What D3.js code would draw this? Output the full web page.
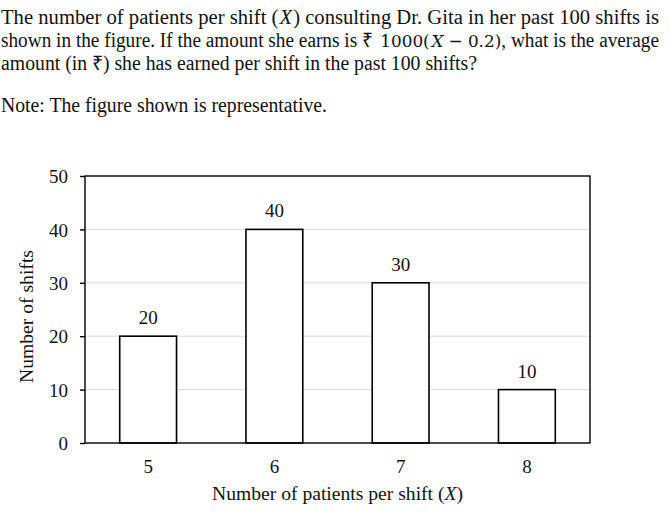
<!DOCTYPE html>
<html><head><meta charset="utf-8">
<script src="https://cdn.jsdelivr.net/npm/d3@7"></script>
<style>body{margin:0;background:#fff}svg{display:block}</style>
</head><body>
<script>
const categories = ["5","6","7","8"];
const values = [20,40,30,10];
const yTicks = [0,10,20,30,40,50];

const W=670,H=514;
const svg=d3.select("body").append("svg").attr("width",W).attr("height",H);
const serif="'Liberation Serif','Times New Roman',serif";
const mathf="'DejaVu Serif',serif";

// question text
const q=svg.append("g").attr("font-family",serif).attr("font-size",20).attr("fill","#111");
function line(y,parts,len){
  const t=q.append("text").attr("x",1).attr("y",y);
  parts.forEach(p=>{
    const s=t.append("tspan").text(p[0]);
    if(p[1]) s.attr("font-style","italic");
    if(p[2]) s.attr("font-family",mathf).attr("font-size",17.5);
    if(p[3]) s.attr("dx",p[3]);
  });
  if(len) t.attr("textLength",len).attr("lengthAdjust","spacingAndGlyphs");
}
line(24,[["The number of patients per shift ("],["X",1,0,1],[")",0,0,1],[" consulting Dr. Gita in her past 100 shifts is"]],658);
line(47,[["shown in the figure. If the amount she earns is"],["₹",0,0,5],["1000(",0,1,8],["X",1,1,2],["− 0.2)",0,1,5],[", what is the average"]],658);
line(70,[["amount (in ₹) she has earned per shift in the past 100 shifts?"]],476);
line(112,[["Note: The figure shown is representative."]],326);

const m={l:85,r:590,t:176,b:443};
const x=d3.scaleBand().domain(categories).range([m.l,m.r]).paddingInner(0.55).paddingOuter(0.275);
const y=d3.scaleLinear().domain([0,50]).range([m.b,m.t]);

// gridlines
svg.append("g").selectAll("line").data(yTicks.filter(d=>d>0&&d<50)).join("line")
  .attr("x1",m.l).attr("x2",m.r).attr("y1",d=>y(d)).attr("y2",d=>y(d))
  .attr("stroke","#d9d9d9").attr("stroke-width",1);

// bars
svg.append("g").selectAll("rect").data(values).join("rect")
  .attr("x",(d,i)=>x(categories[i])).attr("width",x.bandwidth())
  .attr("y",d=>y(d)).attr("height",d=>y(0)-y(d))
  .attr("fill","#fff").attr("stroke","#000").attr("stroke-width",1.6);

// frame
svg.append("rect").attr("x",m.l).attr("y",m.t).attr("width",m.r-m.l).attr("height",m.b-m.t)
  .attr("fill","none").attr("stroke","#000").attr("stroke-width",1.4);

// y axis
const ya=svg.append("g").attr("transform",`translate(${m.l},0)`)
  .call(d3.axisLeft(y).tickValues(yTicks).tickSize(5).tickPadding(12));
ya.select(".domain").remove();
ya.attr("font-family",serif).attr("font-size",19);
ya.selectAll("text").attr("fill","#111").attr("dy","0.35em");
ya.selectAll("line").attr("stroke","#000").attr("stroke-width",1.4);

// x axis labels
const xa=svg.append("g").attr("transform",`translate(0,${m.b})`)
  .call(d3.axisBottom(x).tickSize(0).tickPadding(17));
xa.select(".domain").remove();
xa.attr("font-family",serif).attr("font-size",19);
xa.selectAll("text").attr("fill","#111");

// data labels
svg.append("g").selectAll("text").data(values).join("text")
  .attr("x",(d,i)=>x(categories[i])+x.bandwidth()/2).attr("y",d=>y(d)-12)
  .attr("text-anchor","middle").attr("font-family",serif).attr("font-size",19).attr("fill","#111")
  .text(d=>d);

// axis titles
const xt=svg.append("text").attr("x",212).attr("y",500)
  .attr("font-family",serif).attr("font-size",19).attr("fill","#111")
  .attr("textLength",251).attr("lengthAdjust","spacingAndGlyphs");
xt.append("tspan").text("Number of patients per shift (");
xt.append("tspan").attr("font-style","italic").text("X");
xt.append("tspan").text(")");
svg.append("text").attr("transform",`translate(33,383) rotate(-90)`)
  .attr("font-family",serif).attr("font-size",19).attr("fill","#111")
  .attr("textLength",133).attr("lengthAdjust","spacingAndGlyphs")
  .text("Number of shifts");
</script>
</body></html>
